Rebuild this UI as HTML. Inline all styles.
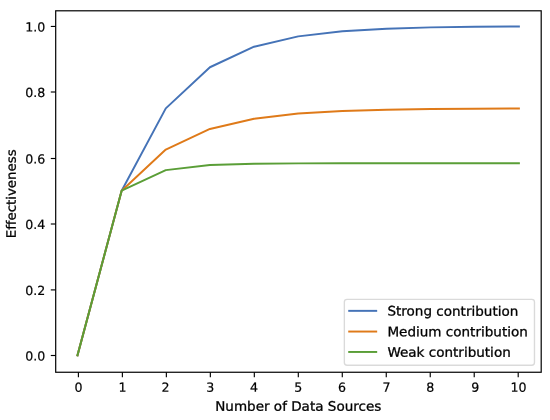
<!DOCTYPE html>
<html lang="en"><head><meta charset="utf-8"><title>Effectiveness vs Number of Data Sources</title>
<style>html,body{margin:0;padding:0;background:#fff;overflow:hidden}svg{display:block;font-family:"DejaVu Sans","Liberation Sans",sans-serif;font-size:13.55px}text{fill:#000000;stroke:#000000;stroke-width:0.3px}text.tk{font-size:12.6px;stroke-width:0.2px}text.yl{font-size:13.35px}</style></head><body>
<svg width="550" height="420" viewBox="0 0 550 420">
<rect width="550" height="420" fill="#fff"/>
<g>
<polyline points="77.50,355.30 121.64,190.70 165.78,108.40 209.92,67.25 254.06,46.68 298.20,36.39 342.34,31.24 386.48,28.67 430.62,27.39 474.76,26.74 518.90,26.42" fill="none" stroke="#4573B7" stroke-width="1.95" stroke-linejoin="round" stroke-linecap="square"/>
<polyline points="77.50,355.30 121.64,190.70 165.78,149.55 209.92,128.98 254.06,118.69 298.20,113.54 342.34,110.97 386.48,109.69 430.62,109.04 474.76,108.72 518.90,108.56" fill="none" stroke="#DF7A19" stroke-width="1.95" stroke-linejoin="round" stroke-linecap="square"/>
<polyline points="77.50,355.30 121.64,190.70 165.78,170.13 209.92,164.98 254.06,163.70 298.20,163.37 342.34,163.29 386.48,163.27 430.62,163.27 474.76,163.27 518.90,163.27" fill="none" stroke="#5A9E37" stroke-width="1.95" stroke-linejoin="round" stroke-linecap="square"/>
</g>
<g stroke="#000000" stroke-width="1.15">
<line x1="78.40" x2="78.40" y1="372.25" y2="377.15"/>
<line x1="122.38" x2="122.38" y1="372.25" y2="377.15"/>
<line x1="166.36" x2="166.36" y1="372.25" y2="377.15"/>
<line x1="210.34" x2="210.34" y1="372.25" y2="377.15"/>
<line x1="254.32" x2="254.32" y1="372.25" y2="377.15"/>
<line x1="298.30" x2="298.30" y1="372.25" y2="377.15"/>
<line x1="342.28" x2="342.28" y1="372.25" y2="377.15"/>
<line x1="386.26" x2="386.26" y1="372.25" y2="377.15"/>
<line x1="430.24" x2="430.24" y1="372.25" y2="377.15"/>
<line x1="474.22" x2="474.22" y1="372.25" y2="377.15"/>
<line x1="518.20" x2="518.20" y1="372.25" y2="377.15"/>
<line x1="50.80" x2="55.7" y1="355.50" y2="355.50"/>
<line x1="50.80" x2="55.7" y1="289.90" y2="289.90"/>
<line x1="50.80" x2="55.7" y1="224.00" y2="224.00"/>
<line x1="50.80" x2="55.7" y1="158.50" y2="158.50"/>
<line x1="50.80" x2="55.7" y1="92.00" y2="92.00"/>
<line x1="50.80" x2="55.7" y1="26.45" y2="26.45"/>
</g>
<g>
<text class="tk" transform="translate(78.40 391.80) rotate(0.03)" text-anchor="middle">0</text>
<text class="tk" transform="translate(122.38 391.80) rotate(0.03)" text-anchor="middle">1</text>
<text class="tk" transform="translate(165.46 391.80) rotate(0.03)" text-anchor="middle">2</text>
<text class="tk" transform="translate(210.34 391.80) rotate(0.03)" text-anchor="middle">3</text>
<text class="tk" transform="translate(254.02 391.80) rotate(0.03)" text-anchor="middle">4</text>
<text class="tk" transform="translate(298.30 391.80) rotate(0.03)" text-anchor="middle">5</text>
<text class="tk" transform="translate(342.08 391.80) rotate(0.03)" text-anchor="middle">6</text>
<text class="tk" transform="translate(386.46 391.80) rotate(0.03)" text-anchor="middle">7</text>
<text class="tk" transform="translate(430.24 391.80) rotate(0.03)" text-anchor="middle">8</text>
<text class="tk" transform="translate(475.22 391.80) rotate(0.03)" text-anchor="middle">9</text>
<text class="tk" transform="translate(518.60 391.80) rotate(0.03)" text-anchor="middle">10</text>
</g><g>
<text class="tk" transform="translate(45.30 360.50) rotate(0.03)" text-anchor="end">0.0</text>
<text class="tk" transform="translate(45.30 294.90) rotate(0.03)" text-anchor="end">0.2</text>
<text class="tk" transform="translate(45.30 229.00) rotate(0.03)" text-anchor="end">0.4</text>
<text class="tk" transform="translate(45.30 163.50) rotate(0.03)" text-anchor="end">0.6</text>
<text class="tk" transform="translate(45.30 97.00) rotate(0.03)" text-anchor="end">0.8</text>
<text class="tk" transform="translate(45.30 31.45) rotate(0.03)" text-anchor="end">1.0</text>
</g>
<rect x="55.7" y="10.8" width="485.50" height="361.45" fill="none" stroke="#000000" stroke-width="1.2" stroke-linejoin="miter"/>
<text transform="translate(298.25 410.80) rotate(0.03) scale(1 0.97)" text-anchor="middle">Number of Data Sources</text>
<text class="yl" transform="translate(15.65 193.75) rotate(-90.03) scale(1 0.97)" text-anchor="middle">Effectiveness</text>
<rect x="344.35" y="299.37" width="190.12" height="65.83" rx="2.7" ry="2.7" fill="#ffffff" fill-opacity="0.8" stroke="#cccccc" stroke-opacity="0.72" stroke-width="1.36"/>
<line x1="349.2" x2="376.2" y1="310.85" y2="310.85" stroke="#4573B7" stroke-width="1.95" stroke-linecap="square"/>
<text transform="translate(387.40 315.60) rotate(0.03) scale(1 0.97)">Strong contribution</text>
<line x1="349.2" x2="376.2" y1="331.55" y2="331.55" stroke="#DF7A19" stroke-width="1.95" stroke-linecap="square"/>
<text transform="translate(387.40 336.30) rotate(0.03) scale(1 0.97)">Medium contribution</text>
<line x1="349.2" x2="376.2" y1="351.95" y2="351.95" stroke="#5A9E37" stroke-width="1.95" stroke-linecap="square"/>
<text transform="translate(387.40 356.70) rotate(0.03) scale(1 0.97)">Weak contribution</text>
</svg></body></html>
